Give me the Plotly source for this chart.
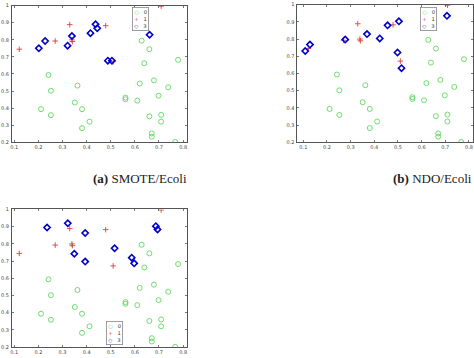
import plotly.graph_objects as go

# ---- data ----
tick_vals_x = [0.1, 0.2, 0.3, 0.4, 0.5, 0.6, 0.7, 0.8]
tick_text_x = ["0.1", "0.2", "0.3", "0.4", "0.5", "0.6", "0.7", "0.8"]
tick_vals_y = [0.2, 0.3, 0.4, 0.5, 0.6, 0.7, 0.8, 0.9, 1.0]
tick_text_y = ["0.2", "0.3", "0.4", "0.5", "0.6", "0.7", "0.8", "0.9", "1"]

class0_x = [0.242, 0.252, 0.211, 0.252, 0.362, 0.351, 0.381, 0.412, 0.381, 0.561, 0.561,
            0.610, 0.620, 0.628, 0.660, 0.639, 0.679, 0.738, 0.698, 0.779, 0.660, 0.709,
            0.709, 0.670, 0.670, 0.767]
class0_y = [0.594, 0.502, 0.394, 0.359, 0.532, 0.433, 0.394, 0.321, 0.283, 0.462, 0.452,
            0.444, 0.544, 0.795, 0.745, 0.663, 0.563, 0.522, 0.473, 0.683, 0.352, 0.361,
            0.321, 0.252, 0.233, 0.202]

class1_x = [0.121, 0.270, 0.330, 0.339, 0.341, 0.479, 0.510, 0.709]
class1_y = [0.745, 0.793, 0.889, 0.800, 0.790, 0.883, 0.672, 0.997]

smote_x = [0.202, 0.228, 0.321, 0.339, 0.416, 0.437, 0.444, 0.488, 0.505, 0.661]
smote_y = [0.751, 0.793, 0.766, 0.822, 0.839, 0.891, 0.868, 0.678, 0.678, 0.830]

ndo_x = [0.108, 0.128, 0.277, 0.369, 0.423, 0.456, 0.504, 0.498, 0.515, 0.707]
ndo_y = [0.731, 0.768, 0.797, 0.829, 0.804, 0.880, 0.903, 0.722, 0.631, 0.935]

third_x = [0.236, 0.322, 0.394, 0.349, 0.394, 0.516, 0.687, 0.694, 0.587, 0.597]
third_y = [0.895, 0.920, 0.863, 0.743, 0.697, 0.775, 0.903, 0.884, 0.720, 0.687]

legend_labels = ["0", "1", "3"]
captions = ["<b>(a)</b> SMOTE/Ecoli", "<b>(b)</b> NDO/Ecoli"]

# ---- styling ----
W, H = 474, 358
GREEN = "#5fd85f"
RED = "#e0403a"
BLUE = "#0000cc"

def px(v):
    return v / W

def py(v):
    return 1 - v / H

panels = [
    ("", (10, 185.8), 2.7, 141.7, [0.0905, 0.8145], smote_x, smote_y),
    ("2", (297.3, 473.5), 1.7, 141.7, [0.075, 0.815], ndo_x, ndo_y),
    ("3", (10, 185.8), 210, 350, [0.0905, 0.8145], third_x, third_y),
]

fig = go.Figure()
layout = dict(
    width=W, height=H, margin=dict(l=0, r=0, t=0, b=0),
    paper_bgcolor="white", plot_bgcolor="white", showlegend=False,
)

axis_common = dict(
    showgrid=False, zeroline=False, showline=True, linecolor="#555555", linewidth=1,
    mirror="ticks", ticks="inside", ticklen=2, tickwidth=0.8, tickcolor="#555555",
    tickfont=dict(size=5, color="#444444", family="DejaVu Sans"), fixedrange=True,
)

for suf, (x0, x1), yt, yb, xr, sx, sy in panels:
    xa = "x" + suf
    ya = "y" + suf
    layout["xaxis" + suf] = dict(
        axis_common, domain=[px(x0), px(x1)], range=xr, anchor=ya,
        tickvals=tick_vals_x, ticktext=tick_text_x, ticklabelstandoff=0,
    )
    layout["yaxis" + suf] = dict(
        axis_common, domain=[py(yb), py(yt)], range=[0.2, 1.0], anchor=xa,
        tickvals=tick_vals_y, ticktext=tick_text_y, ticklabelstandoff=1,
    )
    fig.add_trace(go.Scatter(
        x=class0_x, y=class0_y, mode="markers", xaxis=xa, yaxis=ya, name=legend_labels[0],
        marker=dict(symbol="circle-open", size=5, color=GREEN, line=dict(width=0.9, color=GREEN)),
    ))
    fig.add_trace(go.Scatter(
        x=class1_x, y=class1_y, mode="markers", xaxis=xa, yaxis=ya, name=legend_labels[1],
        marker=dict(symbol="cross-thin-open", size=4, color=RED, line=dict(width=0.9, color=RED)),
    ))
    fig.add_trace(go.Scatter(
        x=sx, y=sy, mode="markers", xaxis=xa, yaxis=ya, name=legend_labels[2],
        marker=dict(symbol="diamond-open", size=4.8, color=BLUE, line=dict(width=1.6, color=BLUE)),
    ))

fig.update_layout(**layout)

legend_text = (
    f'<span style="color:{GREEN}">○</span>   {legend_labels[0]}<br>'
    f'<span style="color:{RED}">+</span>   {legend_labels[1]}<br>'
    f'<span style="color:{BLUE}"><b>◇</b></span>   {legend_labels[2]}'
)
for cx, cy in [(139, 16), (429.5, 16), (113, 335.5)]:
    fig.add_annotation(
        xref="paper", yref="paper", x=px(cx), y=py(cy), xanchor="center", yanchor="middle",
        text=legend_text, showarrow=False, align="left",
        font=dict(size=5.2, color="#333333", family="DejaVu Sans"),
        bgcolor="white", bordercolor="#888888", borderwidth=0.8, borderpad=1.5,
    )

for (cx, cy), txt in zip([(139, 178), (433.5, 178)], captions):
    fig.add_annotation(
        xref="paper", yref="paper", x=px(cx), y=py(cy), xanchor="center", yanchor="middle",
        text=txt, showarrow=False,
        font=dict(size=13, color="#222222", family="Liberation Serif"),
    )

fig.write_html(
    "out.html",
    config={"displayModeBar": False, "staticPlot": True},
    post_script="document.body.style.margin='0';document.body.style.overflow='hidden';",
)
